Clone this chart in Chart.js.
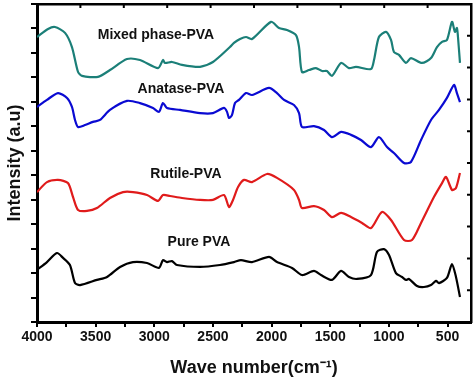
<!DOCTYPE html>
<html>
<head>
<meta charset="utf-8">
<script src="https://cdn.jsdelivr.net/npm/chart.js@4.4.1/dist/chart.umd.min.js"></script>
<style>
  body { margin: 0; background: #fff; }
  #wrap { width: 474px; height: 381px; }
</style>
</head>
<body>
<div id="wrap"><canvas id="ftirChart" width="474" height="381"></canvas></div>
<script>
// series: [wavenumber (cm-1), intensity (a.u, offset)]
const mixedPhase = [[4000,11.65],[3906,11.98],[3847,12.06],[3761,11.82],[3702,11.24],[3650,10.22],[3616,10.06],[3480,10.02],[3378,10.30],[3233,10.75],[3122,10.71],[2968,10.38],[2926,10.71],[2909,10.59],[2849,10.63],[2764,10.51],[2610,10.43],[2500,10.63],[2355,11.24],[2321,11.41],[2269,11.57],[2218,11.65],[2167,11.57],[2005,12.27],[1937,12.02],[1869,11.94],[1792,11.73],[1766,11.24],[1741,10.22],[1681,10.30],[1622,10.38],[1570,10.26],[1528,10.26],[1485,10.06],[1408,10.59],[1340,10.38],[1281,10.43],[1153,10.34],[1127,10.71],[1085,11.65],[1025,11.86],[982,11.53],[957,11.04],[914,10.92],[854,10.59],[812,10.79],[718,10.59],[641,10.79],[590,11.24],[547,11.45],[505,11.53],[462,12.27],[437,11.86],[420,12.02],[411,11.65],[394,10.59]];
const anatase = [[4000,8.79],[3915,9.08],[3821,9.36],[3744,9.16],[3702,8.79],[3676,8.26],[3650,7.97],[3591,8.05],[3523,8.18],[3463,8.26],[3378,8.67],[3233,9.04],[3122,8.95],[3011,8.75],[2960,8.59],[2926,8.95],[2892,8.75],[2781,8.67],[2610,8.54],[2500,8.54],[2406,8.75],[2380,8.59],[2363,8.34],[2338,8.46],[2312,8.95],[2278,9.08],[2218,9.36],[2167,9.28],[2022,9.57],[1954,9.36],[1894,9.08],[1809,8.87],[1766,8.54],[1741,7.97],[1639,8.01],[1553,7.85],[1485,7.56],[1408,7.77],[1323,7.65],[1238,7.44],[1153,7.15],[1085,7.56],[1016,7.15],[957,6.91],[871,6.50],[812,6.54],[726,7.44],[641,8.26],[573,8.67],[505,9.16],[445,9.69],[420,9.36],[394,8.99]];
const rutile = [[4000,5.31],[3915,5.72],[3821,5.81],[3736,5.68],[3693,5.11],[3650,4.58],[3574,4.54],[3489,4.66],[3378,5.07],[3267,5.31],[3182,5.31],[3062,5.19],[2968,4.95],[2926,5.19],[2866,5.15],[2764,5.07],[2610,4.99],[2500,4.99],[2406,5.19],[2363,4.70],[2329,4.99],[2286,5.52],[2235,5.81],[2167,5.72],[2039,6.05],[1954,5.89],[1809,5.40],[1766,4.99],[1741,4.66],[1639,4.74],[1553,4.58],[1485,4.29],[1408,4.46],[1323,4.29],[1229,4.05],[1153,3.84],[1059,4.50],[982,4.17],[871,3.35],[803,3.35],[726,4.05],[616,5.11],[547,5.68],[513,5.93],[462,5.40],[428,5.48],[394,6.09]];
const purePVA = [[4000,2.13],[3915,2.45],[3830,2.82],[3778,2.62],[3719,2.33],[3676,1.59],[3633,1.51],[3489,1.72],[3403,1.84],[3292,2.25],[3182,2.45],[3062,2.41],[2960,2.21],[2926,2.53],[2892,2.45],[2849,2.49],[2807,2.33],[2610,2.25],[2440,2.33],[2321,2.45],[2261,2.53],[2167,2.45],[2022,2.66],[1954,2.45],[1826,2.21],[1741,1.92],[1639,2.09],[1579,1.92],[1485,1.72],[1408,2.09],[1340,1.84],[1272,1.76],[1153,1.92],[1102,2.86],[1042,2.98],[999,2.74],[940,2.00],[888,1.84],[854,1.72],[829,1.76],[760,1.47],[701,1.43],[641,1.51],[598,1.68],[573,1.59],[505,1.80],[462,2.37],[428,1.84],[394,1.02]];

const seriesNames = ['Mixed phase-PVA', 'Anatase-PVA', 'Rutile-PVA', 'Pure PVA'];
const seriesColors = ['#1b7f78', '#0a0ad2', '#e01b1b', '#000000'];
// bottom axis ticks (minor every 250, labelled every 500)
const xTicks = [4000, 3750, 3500, 3250, 3000, 2750, 2500, 2250, 2000, 1750, 1500, 1250, 1000, 750, 500];
const xLabels = [4000, 3500, 3000, 2500, 2000, 1500, 1000, 500];

const FONT = '"Liberation Sans", Arial, sans-serif';

document.addEventListener('DOMContentLoaded', function() {
    initChart();
});

// curve name labels, anchored in data units
const nameLabels = {
    id: 'nameLabels',
    afterDatasetsDraw(chart) {
        const { ctx, scales: { x, y } } = chart;
        const anchors = [[2986, 11.73], [2772, 9.53], [2730, 6.05], [2619, 3.27]];
        ctx.save();
        ctx.font = 'bold 14px ' + FONT;
        ctx.fillStyle = '#111';
        ctx.textAlign = 'center';
        ctx.textBaseline = 'middle';
        seriesNames.forEach((name, i) => {
            ctx.fillText(name, x.getPixelForValue(anchors[i][0]), y.getPixelForValue(anchors[i][1]));
        });
        ctx.restore();
    }
};

// inward tick marks on the top and right frame
const innerTicks = {
    id: 'innerTicks',
    afterDraw(chart) {
        const { ctx, chartArea: a, scales } = chart;
        ctx.save();
        ctx.strokeStyle = '#000';
        ctx.lineWidth = 2;
        ctx.beginPath();
        scales.x2.ticks.forEach(t => {
            if (t.value <= 0 || t.value >= 10) return;
            const px = scales.x2.getPixelForValue(t.value);
            ctx.moveTo(px, a.top);
            ctx.lineTo(px, a.top + 4);
        });
        scales.y2.ticks.forEach(t => {
            if (t.value <= 0 || t.value >= 10) return;
            const py = scales.y2.getPixelForValue(t.value);
            ctx.moveTo(a.right, py);
            ctx.lineTo(a.right - 4, py);
        });
        ctx.stroke();
        ctx.restore();
    }
};

function initChart() {
    const allSeries = [mixedPhase, anatase, rutile, purePVA];

    new Chart(document.getElementById('ftirChart'), {
        type: 'line',
        data: {
            datasets: allSeries.map((s, i) => ({
                label: seriesNames[i],
                data: s.map(p => ({ x: p[0], y: p[1] })),
                borderColor: seriesColors[i],
                borderWidth: 2.2,
                pointRadius: 0,
                tension: 0.25,
                fill: false
            }))
        },
        options: {
            responsive: false,
            animation: false,
            layout: { padding: 0 },
            plugins: { legend: { display: false }, tooltip: { enabled: false } },
            scales: {
                x: {
                    type: 'linear',
                    position: 'bottom',
                    reverse: true,
                    min: 300,
                    max: 4000,
                    afterBuildTicks: s => { s.ticks = xTicks.map(v => ({ value: v })); },
                    afterFit: s => { s.height = 59; },
                    border: { display: true, color: '#000', width: 3 },
                    grid: { drawOnChartArea: false, color: '#000', lineWidth: 2, tickLength: 5 },
                    ticks: {
                        autoSkip: false,
                        maxRotation: 0,
                        padding: 2,
                        color: '#111',
                        font: { family: FONT, size: 14, weight: 'bold' },
                        callback: v => (xLabels.includes(v) ? String(v) : '')
                    },
                    title: {
                        display: true,
                        text: 'Wave number(cm\u207B\u00B9)',
                        color: '#111',
                        padding: { top: 0, bottom: 2 },
                        font: { family: FONT, size: 18, weight: 'bold' }
                    }
                },
                x2: {
                    type: 'linear',
                    position: 'top',
                    min: 0,
                    max: 10,
                    afterFit: s => { s.height = 4; },
                    border: { display: true, color: '#000', width: 2.5 },
                    grid: { display: false },
                    ticks: { display: false, stepSize: 1 }
                },
                y: {
                    type: 'linear',
                    position: 'left',
                    min: 0,
                    max: 13,
                    afterFit: s => { s.width = 37; },
                    border: { display: true, color: '#000', width: 3 },
                    grid: { drawOnChartArea: false, color: '#000', lineWidth: 2, tickLength: 6 },
                    ticks: { display: false, stepSize: 1 },
                    title: {
                        display: true,
                        text: 'Intensity (a.u)',
                        color: '#111',
                        padding: { top: 4, bottom: 0 },
                        font: { family: FONT, size: 18, weight: 'bold' }
                    }
                },
                y2: {
                    type: 'linear',
                    position: 'right',
                    min: 0,
                    max: 10,
                    afterFit: s => { s.width = 3; },
                    border: { display: true, color: '#000', width: 2.5 },
                    grid: { display: false },
                    ticks: { display: false, stepSize: 1 }
                }
            }
        },
        plugins: [nameLabels, innerTicks]
    });
}
</script>
</body>
</html>
